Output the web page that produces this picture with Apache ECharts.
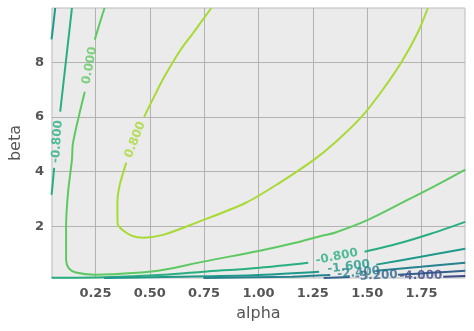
<!DOCTYPE html>
<html><head><meta charset="utf-8">
<script src="https://cdn.jsdelivr.net/npm/echarts@6/dist/echarts.min.js"></script>
<style>html,body{margin:0;padding:0;background:#fff}#c{width:474px;height:331px}</style>
</head><body><div id="c"></div>
<script>
// axis ticks
const xTicks = [0.25, 0.5, 0.75, 1.0, 1.25, 1.5, 1.75];
const yTicks = [2, 4, 6, 8];
// contour levels and their colours (viridis)
const levels = [0.8, 0.0, -0.8, -1.6, -2.4, -3.2, -4.0];
const levelColors = ['#a8da35', '#5ec962', '#29af7f', '#1f9a8a', '#26828e', '#33638d', '#3e4a89'];

// contour paths, [alpha, beta] pairs
const c_p080_a = [[0.783,10.0],[0.701,9.10],[0.642,8.47],[0.565,7.45],[0.520,6.75],[0.474,6.01]];
const c_p080_b = [[0.392,4.33],[0.360,3.45],[0.351,2.86],[0.352,2.10],[0.375,1.86],[0.420,1.64],[0.470,1.58],[0.565,1.69],[0.715,2.13],[0.942,2.86],[1.097,3.59],[1.256,4.44],[1.351,5.06],[1.474,6.01],[1.565,6.93],[1.656,7.99],[1.733,9.10],[1.779,10.0]];
const c_000_a = [[0.292,10.0],[0.270,9.45],[0.247,8.84]];
const c_000_b = [[0.201,6.93],[0.147,5.06],[0.142,4.44],[0.124,3.23],[0.115,1.98],[0.115,0.77],[0.128,0.45],[0.160,0.30],[0.247,0.22],[0.442,0.29],[0.565,0.40],[0.747,0.70],[1.006,1.10],[1.170,1.39],[1.292,1.65],[1.351,1.76],[1.506,2.24],[1.688,2.97],[1.806,3.45],[1.951,4.07]];
const c_m080_a = [[0.142,10.0],[0.115,8.1],[0.088,6.20]];
const c_m080_b = [[0.060,4.14],[0.051,3.34],[0.048,3.15]];
const c_m080_c = [[0.048,0.11],[0.292,0.13],[0.565,0.22],[0.747,0.33],[1.006,0.48],[1.229,0.66]];
const c_m080_d = [[1.488,1.06],[1.656,1.39],[1.792,1.72],[1.951,2.16]];
const c_m160_a = [[0.065,10.0],[0.051,9.02],[0.048,8.85]];
const c_m160_b = [[0.29,0.10],[0.565,0.14],[0.974,0.20],[1.279,0.33]];
const c_m160_c = [[1.542,0.59],[1.747,0.88],[1.951,1.17]];
const c_m240_a = [[0.747,0.10],[1.156,0.15],[1.33,0.21]];
const c_m240_b = [[1.542,0.37],[1.747,0.51],[1.951,0.66]];
const c_m320_a = [[1.30,0.10],[1.42,0.14]];
const c_m320_b = [[1.642,0.22],[1.792,0.29],[1.951,0.37]];
const c_m400_a = [[1.85,0.15],[1.951,0.17]];

// inline contour labels: [alpha, beta, angle, level index]
const labelPos = [
  [0.433, 5.17, 69, 0],
  [0.224, 7.89, 79, 1],
  [0.074, 5.10, 86, 2],
  [1.360, 0.88, 11, 2],
  [1.415, 0.51, 7, 3],
  [1.461, 0.29, 5, 4],
  [1.542, 0.18, 3, 5],
  [1.747, 0.18, 1, 6]
];

const segments = [
  [c_p080_a,0],[c_p080_b,0],
  [c_000_a,1],[c_000_b,1],
  [c_m080_a,2],[c_m080_b,2],[c_m080_c,2],[c_m080_d,2],
  [c_m160_a,3],[c_m160_b,3],[c_m160_c,3],
  [c_m240_a,4],[c_m240_b,4],
  [c_m320_a,5],[c_m320_b,5],
  [c_m400_a,6]
];

const FONT = 'DejaVu Sans';
const series = segments.map(([pts, li]) => ({
  type: 'line', data: pts, smooth: 0.3, symbol: 'none', silent: true,
  lineStyle: {color: levelColors[li], width: 2}, z: 3
}));
series.push({
  type: 'scatter', symbolSize: 0, silent: true, z: 4,
  data: labelPos.map(([a, b, ang, li]) => ({
    value: [a, b],
    label: {show: true, position: 'inside', rotate: ang, formatter: levels[li].toFixed(3),
      color: levelColors[li], fontFamily: FONT, fontWeight: 'bold', fontSize: 12}
  }))
});

const chart = echarts.init(document.getElementById('c'), null, {renderer: 'canvas'});
chart.setOption({
  animation: false,
  backgroundColor: '#ffffff',
  grid: {left: 47, right: 9, top: 8, bottom: 53, show: true, backgroundColor: '#ebebeb', borderColor: '#bcbcbc', borderWidth: 1},
  xAxis: {
    type: 'value', min: 0.05, max: 1.95,
    name: 'alpha', nameLocation: 'middle', nameGap: 28,
    nameTextStyle: {fontFamily: FONT, fontSize: 16, color: '#555555'},
    axisLine: {show: false},
    axisTick: {show: false, customValues: xTicks},
    axisLabel: {customValues: xTicks, formatter: v => v.toFixed(2), fontFamily: FONT, fontWeight: 'bold', fontSize: 13, color: '#555555', margin: 9},
    splitLine: {show: true, lineStyle: {color: '#b2b2b2', width: 1}}
  },
  yAxis: {
    type: 'value', min: 0.1, max: 10,
    name: 'beta', nameLocation: 'middle', nameGap: 20,
    nameTextStyle: {fontFamily: FONT, fontSize: 16, color: '#555555'},
    axisLine: {show: false},
    axisTick: {show: false, customValues: yTicks},
    axisLabel: {customValues: yTicks, formatter: v => String(v), fontFamily: FONT, fontWeight: 'bold', fontSize: 13, color: '#555555', margin: 8},
    splitLine: {show: true, lineStyle: {color: '#b2b2b2', width: 1}}
  },
  series: series
});
</script></body></html>
